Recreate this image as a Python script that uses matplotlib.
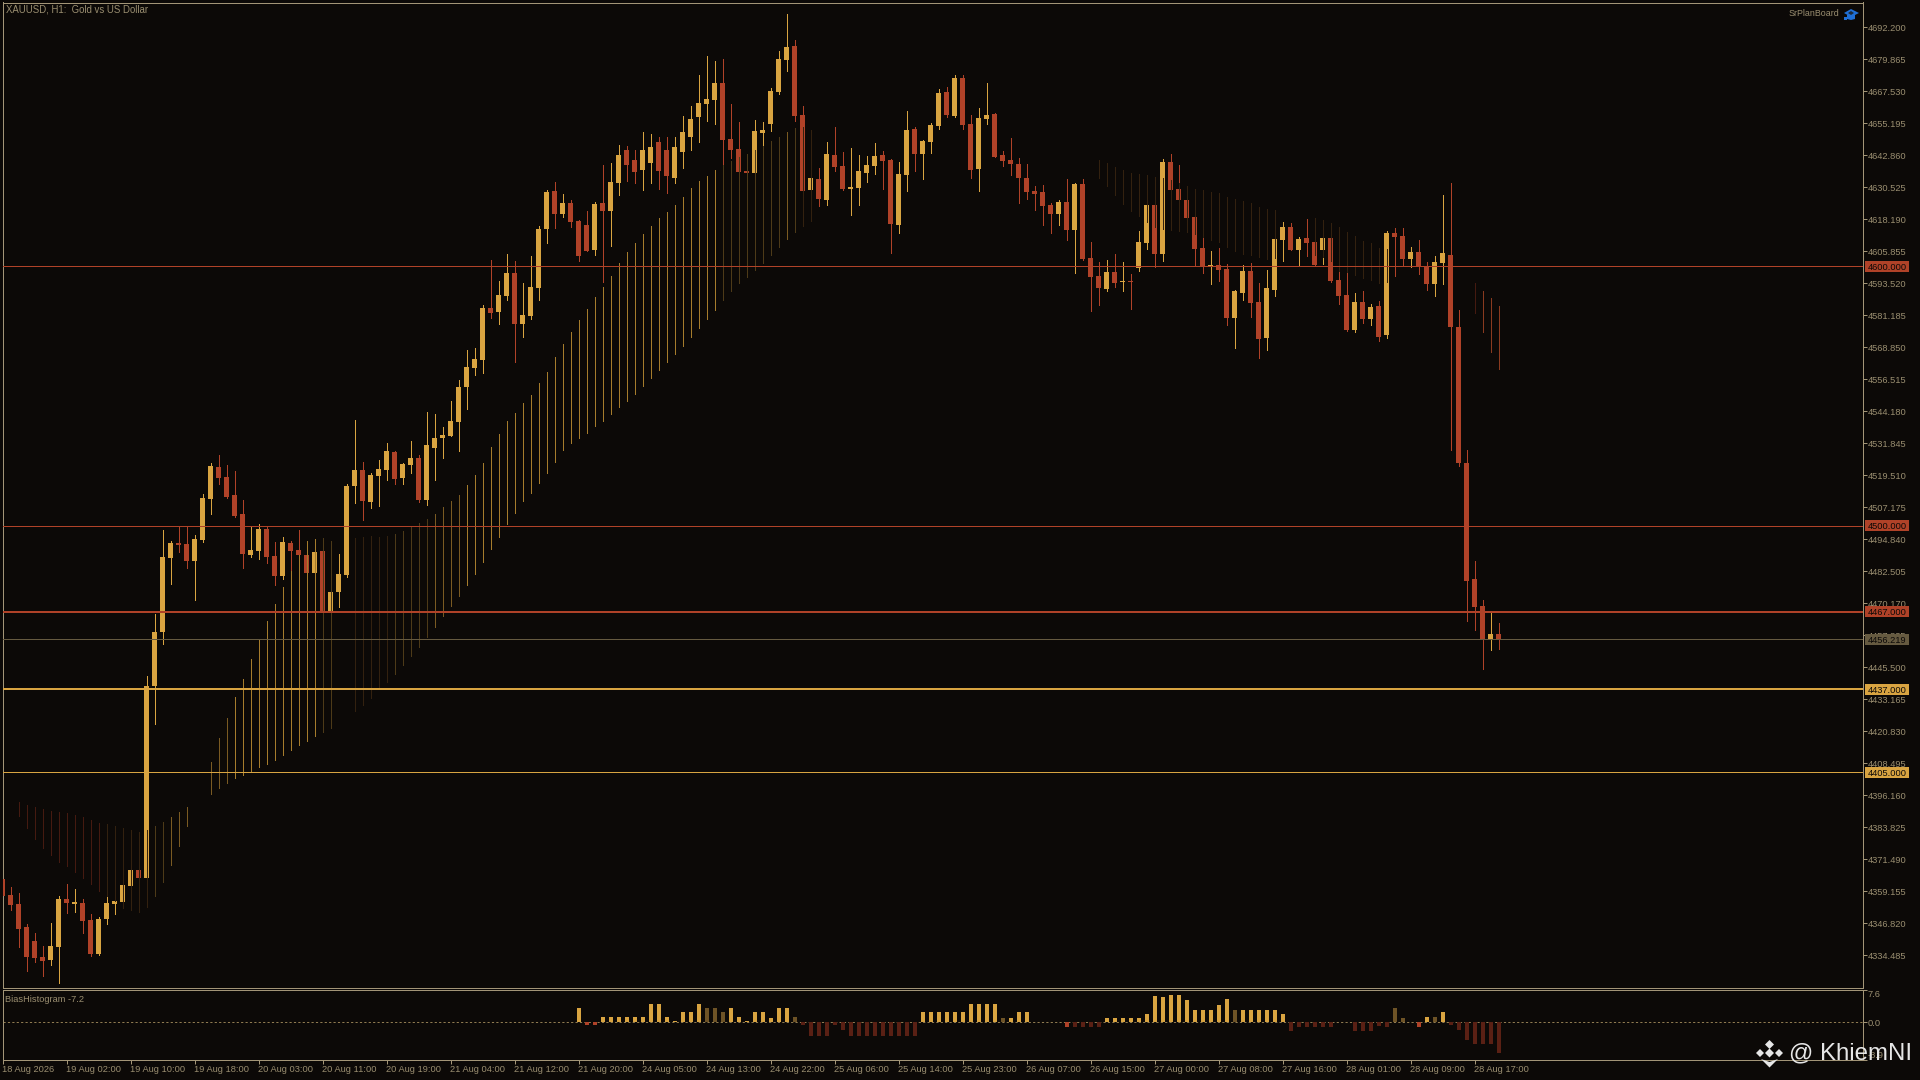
import matplotlib
matplotlib.use("Agg")
import matplotlib.pyplot as plt
from matplotlib.patches import Polygon, Rectangle
from matplotlib.transforms import blended_transform_factory

# XAUUSD H1 candles, prices
opens = [4363.8, 4357.6, 4354.1, 4345.3, 4339.9, 4333.7, 4332.5, 4337.6, 4356.1, 4354.1,
         4354.5, 4348.0, 4334.9, 4348.4, 4354.1, 4355.0, 4361.1, 4367.3, 4364.2, 4438.3,
         4459.2, 4487.7, 4493.5, 4493.1, 4486.6, 4494.7, 4510.5, 4522.8, 4519.0, 4512.0,
         4504.7, 4488.9, 4490.4, 4498.9, 4488.5, 4480.7, 4493.5, 4490.8, 4488.9, 4481.9,
         4490.4, 4467.2, 4474.6, 4481.1, 4515.5, 4521.7, 4509.3, 4519.4, 4521.7, 4528.6,
         4518.6, 4523.6, 4526.3, 4510.1, 4530.2, 4533.7, 4534.8, 4540.2, 4553.4, 4560.7,
         4563.8, 4583.9, 4582.3, 4588.5, 4597.4, 4577.7, 4580.8, 4591.6, 4614.4, 4629.1,
         4620.1, 4624.4, 4617.5, 4615.9, 4606.3, 4624.4, 4621.3, 4632.1, 4644.8, 4641.0,
         4637.1, 4640.0, 4648.0, 4645.0, 4634.0, 4644.0, 4650.0, 4657.5,
         4662.6, 4664.1, 4670.7, 4649.1, 4645.2, 4636.7, 4635.9, 4651.4, 4654.9, 4667.2, 4679.6, 4685.0,
         4658.3, 4629.4, 4633.6, 4625.5, 4642.9, 4638.7, 4629.8, 4630.2, 4635.9, 4638.7,
         4642.9, 4640.9, 4615.9, 4635.1, 4652.9, 4643.3, 4647.9, 4654.1, 4667.2, 4657.9,
         4672.6, 4654.9, 4637.5, 4656.8, 4658.7, 4642.9, 4640.9, 4639.4, 4634.0, 4629.0,
         4628.6, 4623.6, 4620.1, 4624.7, 4613.9, 4631.7, 4603.2, 4596.2, 4591.2, 4597.7,
         4593.9, 4594.3, 4599.3, 4608.9, 4623.6, 4604.7, 4640.2, 4629.8, 4625.5, 4619.0,
         4607.0, 4600.1, 4600.4, 4598.9, 4580.0, 4589.6, 4598.1, 4586.2, 4572.3, 4590.8,
         4610.1, 4615.1, 4606.2, 4610.9, 4609.3, 4606.2, 4610.9, 4594.7, 4588.9, 4575.7,
         4586.2, 4579.6, 4584.6, 4573.4, 4612.8, 4611.6, 4602.8, 4605.5, 4599.7, 4593.1,
         4601.2, 4604.3, 4576.5, 4524.4, 4479.6, 4469.2, 4456.1, 4458.4]
highs = [4365.5, 4360.7, 4358.4, 4346.4, 4343.0, 4337.9, 4346.8, 4357.2, 4361.9, 4360.0,
         4356.1, 4350.3, 4349.2, 4357.2, 4355.3, 4361.5, 4367.3, 4367.3, 4442.2, 4466.1,
         4498.5, 4494.3, 4499.4, 4499.4, 4496.6, 4512.4, 4524.4, 4527.5, 4523.6, 4521.3,
         4510.1, 4499.4, 4500.8, 4499.4, 4493.9, 4495.8, 4494.3, 4498.5, 4494.3, 4495.0,
         4490.4, 4474.6, 4489.2, 4516.3, 4541.0, 4524.8, 4520.5, 4525.5, 4532.1, 4529.0,
         4524.4, 4532.9, 4527.5, 4544.1, 4543.3, 4538.3, 4548.3, 4556.4, 4568.0, 4568.4,
         4585.0, 4602.4, 4594.3, 4604.7, 4602.0, 4593.5, 4604.0, 4615.5, 4629.4, 4632.5,
         4627.9, 4625.6, 4617.9, 4621.3, 4624.8, 4639.0, 4640.0, 4646.8, 4646.5, 4645.0,
         4652.0, 4651.0, 4650.0, 4650.0, 4650.0, 4658.0, 4662.0, 4674.0,
         4681.1, 4679.2, 4680.0, 4662.6, 4655.6, 4636.7, 4656.4, 4655.6, 4668.7, 4683.0, 4697.3, 4687.3,
         4661.8, 4634.0, 4637.9, 4647.9, 4653.7, 4644.0, 4645.6, 4642.9, 4642.5, 4647.5,
         4644.4, 4641.3, 4640.2, 4659.9, 4653.7, 4648.7, 4655.2, 4668.4, 4669.2, 4673.8,
         4673.8, 4658.3, 4661.0, 4670.7, 4659.1, 4644.4, 4649.4, 4641.7, 4639.4, 4630.9,
         4631.3, 4624.3, 4625.5, 4633.6, 4632.1, 4633.6, 4609.3, 4601.6, 4602.4, 4604.7,
         4601.6, 4597.0, 4613.6, 4623.6, 4623.6, 4641.4, 4643.3, 4639.0, 4625.5, 4619.0,
         4611.3, 4605.9, 4607.0, 4600.8, 4590.8, 4600.4, 4601.2, 4593.5, 4598.5, 4610.5,
         4617.0, 4616.7, 4611.3, 4618.2, 4609.3, 4610.9, 4610.9, 4599.8, 4598.1, 4589.6,
         4590.4, 4585.4, 4586.6, 4613.6, 4614.7, 4614.7, 4607.4, 4610.1, 4601.6, 4603.9,
         4627.5, 4632.1, 4583.1, 4529.4, 4486.6, 4471.5, 4466.5, 4462.6]
lows = [4356.0, 4351.9, 4337.6, 4328.3, 4331.8, 4326.4, 4330.6, 4323.7, 4350.7, 4351.1,
        4343.0, 4334.1, 4334.5, 4346.4, 4350.3, 4352.6, 4361.1, 4364.2, 4364.2, 4423.7,
        4454.5, 4477.7, 4490.0, 4483.9, 4471.5, 4493.9, 4504.7, 4516.3, 4510.9, 4503.5,
        4483.9, 4488.1, 4487.3, 4485.8, 4477.3, 4479.6, 4482.7, 4488.9, 4481.9, 4481.9,
        4467.2, 4467.2, 4468.8, 4480.4, 4508.9, 4502.4, 4507.0, 4507.8, 4517.8, 4516.3,
        4516.3, 4520.5, 4509.3, 4508.2, 4517.8, 4526.3, 4534.8, 4529.0, 4544.9, 4558.0,
        4558.8, 4580.0, 4577.7, 4587.0, 4563.0, 4572.7, 4579.6, 4587.0, 4609.0, 4614.8,
        4619.0, 4615.1, 4602.0, 4605.9, 4604.3, 4593.9, 4607.8, 4627.5, 4632.9, 4632.1,
        4629.4, 4632.0, 4629.8, 4628.2, 4632.0, 4638.0, 4645.0, 4648.0,
        4656.0, 4654.9, 4639.4, 4641.7, 4636.3, 4635.9, 4635.9, 4646.7, 4652.1, 4666.4, 4675.3, 4656.0,
        4629.0, 4629.4, 4623.2, 4623.6, 4636.7, 4629.4, 4619.7, 4623.6, 4632.4, 4635.5,
        4629.8, 4605.1, 4612.8, 4629.0, 4636.7, 4633.6, 4643.7, 4652.9, 4657.5, 4657.5,
        4652.9, 4634.0, 4629.0, 4654.9, 4642.1, 4638.7, 4635.1, 4624.3, 4625.9, 4621.7,
        4615.9, 4612.8, 4615.9, 4610.1, 4597.4, 4602.4, 4582.7, 4585.0, 4590.4, 4592.0,
        4590.4, 4583.8, 4598.1, 4606.6, 4599.8, 4602.0, 4629.4, 4625.5, 4618.6, 4600.4,
        4597.4, 4593.1, 4594.3, 4577.3, 4568.4, 4586.9, 4580.4, 4564.6, 4568.0, 4588.5,
        4602.0, 4606.2, 4600.4, 4603.9, 4600.1, 4600.8, 4593.9, 4585.4, 4575.0, 4574.6,
        4578.1, 4577.3, 4571.1, 4572.3, 4596.2, 4600.4, 4599.8, 4597.0, 4590.8, 4588.5,
        4593.1, 4529.4, 4523.2, 4463.4, 4459.9, 4444.9, 4452.2, 4452.6]
closes = [4357.2, 4353.8, 4344.5, 4333.7, 4333.3, 4332.2, 4337.9, 4356.1, 4354.5, 4355.0,
          4347.6, 4334.9, 4348.4, 4354.5, 4355.3, 4361.5, 4367.3, 4364.2, 4438.3, 4459.2,
          4488.1, 4493.5, 4492.7, 4486.6, 4495.0, 4510.9, 4523.2, 4518.6, 4511.3, 4503.9,
          4489.2, 4490.8, 4498.9, 4488.1, 4480.7, 4493.9, 4490.4, 4488.9, 4481.9, 4490.0,
          4467.2, 4474.6, 4481.5, 4515.5, 4521.7, 4509.7, 4519.8, 4522.1, 4529.0, 4518.2,
          4524.0, 4526.3, 4510.1, 4531.0, 4534.0, 4535.2, 4540.6, 4553.4, 4561.1, 4564.2,
          4583.9, 4581.9, 4588.9, 4597.4, 4577.7, 4581.2, 4592.0, 4614.4, 4628.7, 4620.1,
          4624.4, 4617.1, 4604.0, 4605.9, 4624.0, 4621.3, 4632.5, 4642.9, 4639.0, 4636.3,
          4645.0, 4646.0, 4637.0, 4635.0, 4646.0, 4652.0, 4657.0, 4662.9,
          4664.5, 4670.7, 4648.7, 4644.8, 4636.3, 4635.9, 4652.1, 4652.5, 4667.6, 4680.0, 4684.6, 4657.9,
          4629.0, 4634.0, 4625.9, 4643.3, 4638.3, 4629.8, 4630.5, 4636.7, 4639.0, 4642.5,
          4640.6, 4616.3, 4635.5, 4652.5, 4643.3, 4648.3, 4654.5, 4666.8, 4658.3, 4672.6,
          4654.5, 4637.1, 4657.2, 4658.3, 4642.1, 4640.6, 4639.4, 4634.0, 4628.6, 4627.9,
          4623.2, 4620.1, 4624.7, 4613.9, 4631.7, 4602.8, 4595.8, 4591.6, 4597.7, 4593.5,
          4594.3, 4593.9, 4609.3, 4623.6, 4604.7, 4640.2, 4629.4, 4625.5, 4618.6, 4606.6,
          4599.9, 4600.4, 4598.5, 4580.0, 4590.4, 4598.1, 4585.8, 4571.9, 4591.6, 4610.5,
          4615.1, 4606.2, 4610.5, 4608.9, 4600.4, 4610.9, 4594.3, 4588.5, 4575.7, 4586.2,
          4579.6, 4584.2, 4573.0, 4612.8, 4611.3, 4602.8, 4605.5, 4599.7, 4593.1, 4601.6,
          4605.1, 4576.5, 4524.4, 4478.8, 4468.8, 4456.4, 4458.4, 4456.2]

# thin indicator bars behind the price
ghost_idx = list(range(2, 24)) + list(range(26, 42)) + list(range(44, 102)) \
    + list(range(137, 160)) + list(range(164, 174)) + list(range(184, 188))
ghost_high = [4393.5, 4392.4, 4391.6, 4390.8, 4390.0, 4389.7, 4389.3, 4388.5, 4387.7, 4386.6, 4385.4,
              4385.0, 4384.3, 4383.5, 4382.7, 4382.0, 4382.7, 4384.3, 4385.8, 4387.7, 4389.7, 4391.6,
              4409.0, 4418.2, 4426.0, 4434.1, 4441.0, 4448.7, 4456.5, 4463.4,
              4470.0, 4476.5, 4482.7, 4488.9, 4494.3, 4495.1, 4495.5, 4494.3,
              4495.4, 4495.8, 4496.2, 4495.8, 4496.2, 4497.0, 4498.1, 4500.0, 4501.2, 4502.8,
              4504.7, 4507.4, 4509.7, 4512.0, 4515.9, 4519.7, 4524.4, 4530.5, 4535.6, 4540.6,
              4543.7, 4547.2, 4550.6, 4554.9, 4559.5, 4565.0, 4570.0, 4574.6, 4579.2, 4583.5,
              4588.1, 4592.0, 4596.2, 4601.2, 4605.5, 4608.9, 4612.4, 4615.5, 4618.6, 4620.9,
              4623.6, 4626.7, 4630.2, 4632.9, 4634.8, 4637.1, 4639.0, 4640.6, 4642.1, 4643.3,
              4644.8, 4646.4, 4648.3, 4649.9, 4651.8, 4653.3, 4653.7, 4652.5,
              4641.0, 4639.8, 4638.3, 4637.1, 4636.0, 4635.6, 4635.2, 4634.4, 4634.0, 4633.3,
              4632.1, 4631.0, 4629.8, 4629.4, 4628.6, 4628.2, 4626.7, 4625.9, 4625.1, 4624.4,
              4622.8, 4622.0, 4621.7,
              4618.6, 4617.8, 4616.7, 4615.1, 4613.2, 4611.6, 4609.7, 4608.9, 4607.0, 4606.6,
              4593.5, 4590.4, 4587.7, 4584.6]
ghost_low = [4388.1, 4383.5, 4379.3, 4375.8, 4373.1, 4370.4, 4368.8, 4366.5, 4364.2, 4361.9, 4359.2,
             4357.2, 4355.3, 4352.6, 4351.9, 4351.1, 4353.0, 4357.2, 4362.7, 4369.2, 4376.6, 4384.3,
             4396.6, 4398.9, 4400.9, 4402.8, 4404.0, 4405.5, 4407.1, 4408.2,
             4409.8, 4411.7, 4413.6, 4415.5, 4417.1, 4419.0, 4420.6, 4422.1,
             4428.7, 4431.0, 4433.7, 4437.0, 4439.8, 4442.9, 4446.4, 4449.9, 4453.3, 4457.2,
             4461.1, 4465.3, 4469.2, 4473.0, 4477.3, 4481.5, 4486.2, 4491.2, 4495.8, 4500.8,
             4505.1, 4509.7, 4512.8, 4516.7, 4520.5, 4524.8, 4529.4, 4532.0, 4533.7, 4536.0,
             4538.7, 4540.6, 4543.0, 4545.7, 4548.0, 4550.7, 4553.8, 4556.9, 4560.0, 4563.0,
             4566.1, 4569.2, 4572.7, 4576.2, 4579.6, 4583.1, 4587.0, 4590.5, 4593.5, 4595.9,
             4598.6, 4601.3, 4604.3, 4607.4, 4610.5, 4613.2, 4615.5, 4617.4,
             4634.0, 4631.0, 4627.5, 4624.0, 4621.3, 4619.4, 4617.0, 4615.1, 4614.3, 4613.9,
             4613.6, 4613.2, 4612.4, 4611.3, 4610.1, 4609.3, 4607.4, 4605.9, 4604.7, 4604.3,
             4603.5, 4602.8, 4603.2,
             4604.3, 4603.5, 4602.0, 4598.1, 4597.7, 4596.6, 4595.4, 4594.7, 4593.5, 4593.9,
             4581.9, 4574.6, 4567.2, 4560.3]
ghost_tone = [0] * 11 + [1] * 6 + [2] * 2 + [3] * 3 \
    + [3] * 3 + [4] * 11 + [2] * 2 \
    + [1] * 5 + [2] * 5 + [3] * 4 + [4] * 32 + [2] * 8 + [3] + [2] + [1] * 2 \
    + [1] * 23 + [1] * 10 + [0] + [5] * 3

# BiasHistogram sub window
hist_values = [0.0] * 72 + [
    3.4, -0.6, -0.6, 1.25, 1.25, 1.25, 1.25, 1.25, 1.25, 4.3,
    4.3, 1.25, 0.3, 2.4, 2.4, 4.3, 3.4, 3.4, 2.4, 3.4,
    1.25, 0.3, 2.4, 2.4, 1.0, 3.4, 3.4, 1.25, -0.6, -3.1,
    -3.1, -3.1, -0.6, -1.8, -3.1, -3.1, -3.1, -3.1, -3.1, -3.1,
    -3.1, -3.1, -3.1, 2.4, 2.4, 2.4, 2.4, 2.4, 2.4, 4.3,
    4.3, 4.3, 4.3, 1.0, 1.0, 2.4, 2.4, 0.0, 0.0, 0.0,
    0.0, -1.1, -1.1, -1.1, -1.1, -1.1, 1.0, 1.0, 1.0, 1.0,
    1.0, 2.0, 6.2, 6.0, 6.4, 6.4, 5.2, 2.9, 2.9, 2.9,
    4.1, 5.5, 2.9, 2.9, 2.9, 2.9, 2.9, 2.9, 2.0, -2.0,
    -1.1, -1.1, -1.1, -1.1, -1.1, 0.0, 0.0, -2.0, -2.0, -2.0,
    -0.9, -1.1, 3.4, 1.0, 0.0, -1.1, 1.25, 1.25, 2.4, -0.6,
    -1.8, -4.1, -5.1, -5.1, -5.1, -7.2]
hist_dim = [88, 89, 90, 99, 125, 154, 174, 175, 179]
hist_bright = [73, 74, 133, 177]

price_ticks = [4692.200, 4679.865, 4667.530, 4655.195, 4642.860, 4630.525, 4618.190, 4605.855,
               4593.520, 4581.185, 4568.850, 4556.515, 4544.180, 4531.845, 4519.510, 4507.175,
               4494.840, 4482.505, 4470.170, 4457.835, 4445.500, 4433.165, 4420.830, 4408.495,
               4396.160, 4383.825, 4371.490, 4359.155, 4346.820, 4334.485]
date_labels = ["18 Aug 2026", "19 Aug 02:00", "19 Aug 10:00", "19 Aug 18:00", "20 Aug 03:00",
               "20 Aug 11:00", "20 Aug 19:00", "21 Aug 04:00", "21 Aug 12:00", "21 Aug 20:00",
               "24 Aug 05:00", "24 Aug 13:00", "24 Aug 22:00", "25 Aug 06:00", "25 Aug 14:00",
               "25 Aug 23:00", "26 Aug 07:00", "26 Aug 15:00", "27 Aug 00:00", "27 Aug 08:00",
               "27 Aug 16:00", "28 Aug 01:00", "28 Aug 09:00", "28 Aug 17:00"]
level_prices = [4600.0, 4500.0, 4467.0, 4456.219, 4437.0, 4405.0]
level_widths = [1, 1, 2, 1, 2, 1]

BG = "#0c0907"
FRAME = "#a39577"
TEXT = "#9a8e70"
GOLD = "#d9a441"
RED = "#b04228"
GREY = "#665a40"
level_colors = [RED, RED, RED, GREY, GOLD, GOLD]
tone_colors = ["#451a10", "#33210f", "#4d3a18", "#7a5a22", "#a67c2c", "#8a3a1f"]
PX = 0.72  # one pixel in points at dpi 100
FONT = "Liberation Sans"
FS = 6.7

plt.rcParams["font.family"] = [FONT, "DejaVu Sans"]
fig = plt.figure(figsize=(19.2, 10.8), dpi=100, facecolor=BG)


def px_box(left, top, right, bottom):
    return [left / 1920, 1 - bottom / 1080, (right - left) / 1920, (bottom - top) / 1080]


def px_pts(points):
    return [(x / 1920, 1 - y / 1080) for x, y in points]


ax = fig.add_axes(px_box(2.5, 2.5, 1862.5, 987.5), facecolor=BG)
sub = fig.add_axes(px_box(2.5, 989.5, 1862.5, 1059.5), facecolor=BG)
for a in (ax, sub):
    a.set_xlim(0, 232.5)
    for s in a.spines.values():
        s.set_color(FRAME)
        s.set_linewidth(PX)
ax.set_ylim(4322.07, 4701.76)
sub.set_ylim(-8.69, 7.75)

# candles
idx = list(range(len(opens)))
colors = [GOLD if c >= o else RED for o, c in zip(opens, closes)]
tops = [max(o, c) for o, c in zip(opens, closes)]
bots = [min(o, c) for o, c in zip(opens, closes)]
ax.vlines(idx, lows, highs, colors=colors, linewidth=PX, antialiased=False, zorder=2)
ax.bar(idx, [t - b for t, b in zip(tops, bots)], bottom=bots, width=0.625, color=colors,
       linewidth=0, antialiased=False, zorder=3)

# indicator bars sit on top of the candles
ax.vlines(ghost_idx, ghost_low, ghost_high, colors=[tone_colors[t] for t in ghost_tone],
          linewidth=PX, antialiased=False, zorder=4)

# horizontal levels with their price tags on the scale
tag_tr = blended_transform_factory(ax.transAxes, ax.transData)
for price, col, w in zip(level_prices, level_colors, level_widths):
    ax.axhline(price, color=col, linewidth=w * PX, antialiased=False, zorder=5)
    ax.add_patch(Rectangle((1.00134, price - 2.12), 44 / 1860, 4.24, transform=tag_tr, facecolor=col,
                           edgecolor="none", clip_on=False, zorder=6))
    ax.text(1.00285, price, f"{price:.3f}", transform=tag_tr, color=BG, fontsize=FS,
            va="center_baseline", ha="left", zorder=7, clip_on=False)

ax.yaxis.tick_right()
ax.set_yticks(price_ticks, [f"{p:.3f}" for p in price_ticks])
ax.tick_params(axis="y", length=2.9, width=PX, pad=1, color=FRAME, labelcolor=TEXT, labelsize=FS)
ax.set_xticks([])

# histogram
hist_colors = []
for i, v in enumerate(hist_values):
    if i in hist_dim:
        hist_colors.append("#6e5326")
    elif i in hist_bright:
        hist_colors.append(RED)
    elif v < 0:
        hist_colors.append("#5a2014")
    else:
        hist_colors.append(GOLD)
sub.axhline(0, color="#8f7a50", linewidth=PX, linestyle=(0, (2.2, 2.2)), zorder=1)
sub.bar(idx, hist_values, width=0.5, color=hist_colors, linewidth=0, antialiased=False, zorder=2)

sub.yaxis.tick_right()
sub.set_yticks([7.6, 0.0, -8.69], ["7.6", "0.0", "-8.9"])
sub.tick_params(axis="y", length=2.9, width=PX, pad=1, color=FRAME, labelcolor=TEXT, labelsize=FS)
sub.get_yticklabels()[0].set_verticalalignment("top")
sub.get_yticklabels()[2].set_verticalalignment("bottom")
sub.set_xticks(list(range(0, 8 * len(date_labels), 8)), date_labels, ha="left")
sub.tick_params(axis="x", length=2.9, width=PX, pad=1, color=FRAME, labelcolor=TEXT, labelsize=FS)

# corner captions
fig.text(6.5 / 1920, 1 - 9.5 / 1080, "XAUUSD, H1:  Gold vs US Dollar", color=TEXT, fontsize=6.9, va="center")
fig.text(5 / 1920, 1 - 999 / 1080, "BiasHistogram -7.2", color=TEXT, fontsize=FS, va="center")
fig.text(1839 / 1920, 1 - 13.5 / 1080, "SrPlanBoard", color=TEXT, fontsize=6.4, va="center", ha="right")

# blue cap icon
BLUE = "#1f6fd6"
fig.add_artist(Polygon(px_pts([(1844, 13), (1851, 9), (1859, 13), (1851, 17)]), closed=True,
                       facecolor=BLUE, edgecolor="none", transform=fig.transFigure))
fig.add_artist(Polygon(px_pts([(1847, 15), (1855, 15), (1855, 19), (1851, 20), (1847, 19)]), closed=True,
                       facecolor=BLUE, edgecolor="none", transform=fig.transFigure))
fig.add_artist(Polygon(px_pts([(1848, 13), (1851, 11), (1854, 13), (1851, 15)]), closed=True,
                       facecolor="#1c2a3a", edgecolor="none", transform=fig.transFigure))
fig.add_artist(Rectangle((1844 / 1920, 1 - 20 / 1080), 3 / 1920, 3 / 1080, facecolor=BLUE,
                         edgecolor="none", transform=fig.transFigure))

# watermark
WM = "#e6e6e6"
for cx, cy, r in [(1769.5, 1044.5, 4.5), (1760, 1053, 4), (1779, 1053, 4), (1769.5, 1053, 4.5)]:
    fig.add_artist(Polygon(px_pts([(cx, cy - r), (cx + r, cy), (cx, cy + r), (cx - r, cy)]), closed=True,
                           facecolor=WM, edgecolor="none", transform=fig.transFigure, zorder=10))
fig.add_artist(Polygon(px_pts([(1761, 1059), (1769.5, 1062), (1778, 1059), (1769.5, 1067.5)]), closed=True,
                       facecolor=WM, edgecolor="none", transform=fig.transFigure, zorder=10))
fig.text(1789 / 1920, 1 - 1053 / 1080, "@ KhiemNI", color=WM, fontsize=17.3, va="center", zorder=10)

fig.savefig("out.png", dpi=100, facecolor=BG)
